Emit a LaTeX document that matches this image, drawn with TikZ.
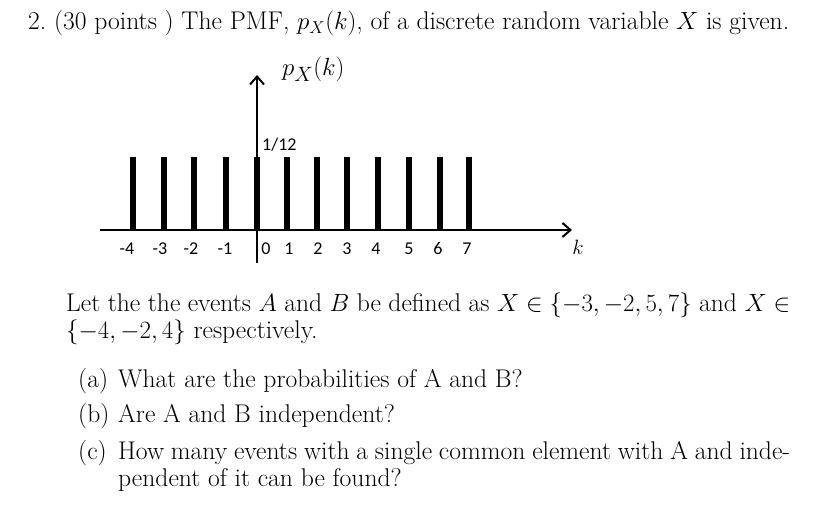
\documentclass[tikz,border=0pt]{standalone}
\usepackage{fontspec}
\newfontfamily\calib{Carlito}
\usetikzlibrary{arrows.meta}
\begin{document}
\begin{tikzpicture}[x=1pt,y=-1pt,
  txt/.style={inner sep=0pt,font=\fontsize{25.6}{27}\selectfont},
  lab/.style={inner sep=0pt,font=\calib\fontsize{18}{20}\selectfont},
  stem/.style={line width=6pt}]
\useasboundingbox (0,0) rectangle (832,516);
\node[txt,anchor=base west] (title) at (28,30) {2.\ (30 points ) The PMF, $p_X(k)$, of a discrete random variable $X$ is given.};
\coordinate (xl) at (100,230);
\coordinate (xr) at (572,230);
\coordinate (yb) at (257,263);
\coordinate (yt) at (257,75);
\draw[line width=1.5pt,-{Straight Barb[length=8pt,width=14pt,line width=2pt]}] (xl) -- (xr);
\draw[line width=1.5pt,-{Straight Barb[length=8pt,width=14pt,line width=2pt]}] (yb) -- (yt);
\foreach \k/\x in {-4/133,-3/164,-2/194,-1/226,0/257,1/287,2/317,3/347,4/378,5/409,6/440,7/469}{
  \draw[stem] (\x,230) -- (\x,157);
}
\foreach \k/\x in {-4/127,-3/160,-2/191,-1/225,0/266,1/289,2/318,3/347,4/376,5/409,6/438,7/467}{
  \node[lab,anchor=base] at (\x,254) {\k};
}
\node[lab,anchor=base west] (p) at (262,150) {1/12};
\node[txt,anchor=base west,font=\fontsize{28}{30}\selectfont] (pl) at (282,76) {$p_X(k)$};
\node[txt,anchor=base,font=\fontsize{20}{20}\selectfont] (k) at (578,254) {$k$};
\node[txt,anchor=base west] (par1) at (66,311)
 {\makebox[724pt][s]{Let the the events $A$ and $B$ be defined as $X\in\{-3,-2,5,7\}$ and $X\in$}};
\node[txt,anchor=base west] (par2) at (66,338) {$\{-4,-2,4\}$ respectively.};
\node[txt,anchor=base west] (a) at (78,387) {(a)};
\node[txt,anchor=base west] (at) at (118,387) {What are the probabilities of A and B?};
\node[txt,anchor=base west] (b) at (78,422) {(b)};
\node[txt,anchor=base west] (bt) at (118,422) {Are A and B independent?};
\node[txt,anchor=base west] (c) at (78,459) {(c)};
\node[txt,anchor=base west] (ct1) at (118,459)
 {\makebox[672pt][s]{How many events with a single common element with A and inde-}};
\node[txt,anchor=base west] (ct2) at (118,486) {pendent of it can be found?};
\end{tikzpicture}
\end{document}
